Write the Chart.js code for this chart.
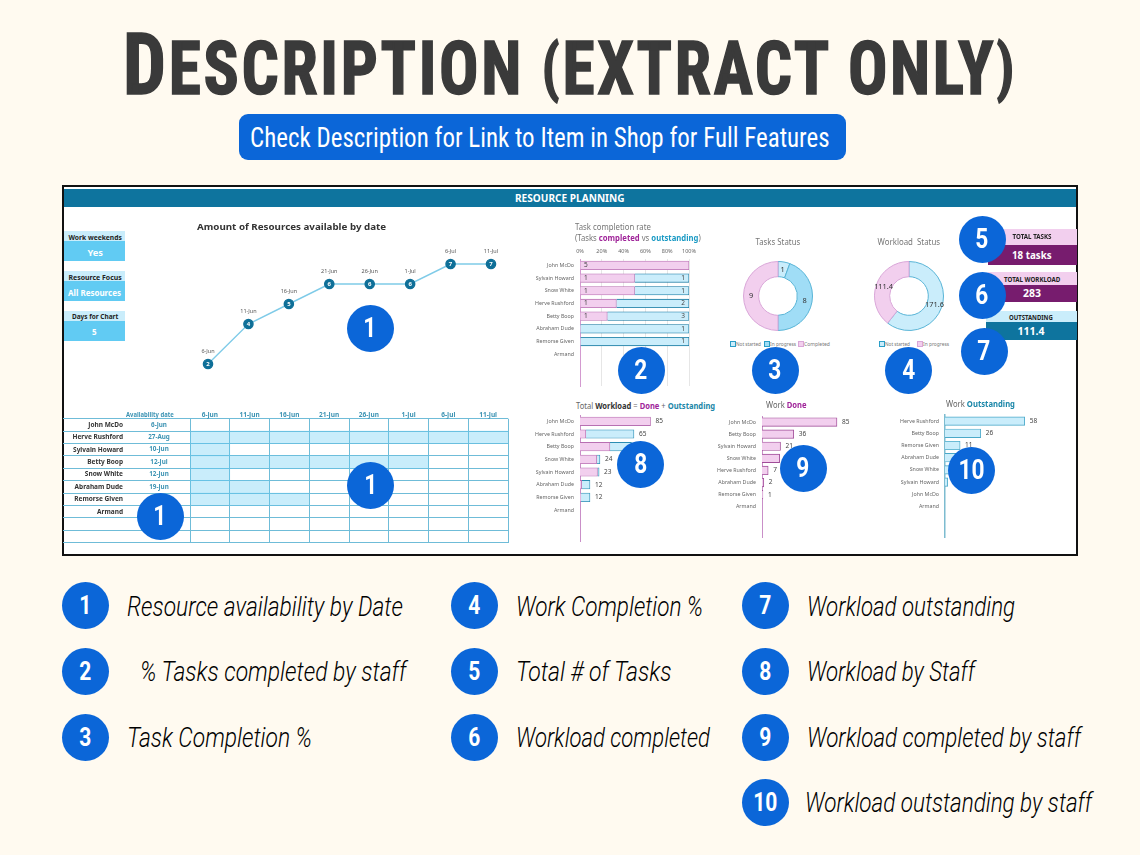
<!DOCTYPE html>
<html><head><meta charset="utf-8">
<script src="https://cdn.jsdelivr.net/npm/chart.js@4/dist/chart.umd.min.js"></script>
<style>
html,body{margin:0;padding:0;background:#fffaf0;overflow:hidden}
#stage{position:relative;width:1140px;height:855px;overflow:hidden;background:#fffaf0;font-family:"Noto Sans",sans-serif}
.abs{position:absolute}
.t{position:absolute;white-space:nowrap;line-height:1}
canvas{position:absolute}
.badge{position:absolute;width:47px;height:47px;margin:-23.5px 0 0 -23.5px;border-radius:50%;background:#0b66d8;color:#fff;
 font:bold 27px/47px "Liberation Sans Narrow","Roboto",sans-serif;text-align:center;z-index:30}
.badge span{display:inline-block;transform:scaleX(.84)}
.sw{position:absolute;width:4px;height:4px;border:1px solid #38a6cf}
</style></head><body><div id="stage"></div>
<script>
// ---------- data ----------
const lineDates=['6-Jun','11-Jun','16-Jun','21-Jun','26-Jun','1-Jul','6-Jul','11-Jul'];
const lineValues=[2,4,5,6,6,6,7,7];

const taskNames=['John McDo','Sylvain Howard','Snow White','Herve Rushford','Betty Boop','Abraham Dude','Remorse Given','Armand','',''];
const taskDone=[5,1,1,1,1,0,0,0];
const taskOutstanding=[0,1,1,2,3,1,1,0];
const percentTicks=[0,20,40,60,80,100];

const statusLabels=['Not started','In progress','Completed'];
const statusTasks=[1,8,9];
const workloadLabels=['Not started','In progress'];
const workloadStatus=[171.6,111.4];

const gridNames=['John McDo','Herve Rushford','Sylvain Howard','Betty Boop','Snow White','Abraham Dude','Remorse Given','Armand','',''];
const gridAvailability=['6-Jun','27-Aug','10-Jun','12-Jul','12-Jun','19-Jun','','','',''];
const gridFilledCols=[0,8,1,6,1,2,3,0,0,0];

const wlNames=['John McDo','Herve Rushford','Betty Boop','Snow White','Sylvain Howard','Abraham Dude','Remorse Given','Armand','',''];
const wlDone=[85,7,36,20,21,2,1,0];
const wlOutstanding=[0,58,26,4,2,10,11,0];

const doneNames=['John McDo','Betty Boop','Sylvain Howard','Snow White','Herve Rushford','Abraham Dude','Remorse Given','Armand','',''];
const doneValues=[85,36,21,20,7,2,1,0];

const outNames=['Herve Rushford','Betty Boop','Remorse Given','Abraham Dude','Snow White','Sylvain Howard','John McDo','Armand','',''];
const outValues=[58,26,11,10,4,2,0,0];

// ---------- colours ----------
const PINK='#f2cfee',PINKB='#b86fb2',BLUE='#caedfb',BLUEB='#2a8db3',TEAL='#0e749e',PURPLE='#771c6e',MID='#61cbf3';
const FONT='"Noto Sans",sans-serif';

// ---------- page helpers ----------
const stage=document.getElementById('stage');
function T(html,x,y,o={}){
  const e=document.createElement('div');e.className='t';e.innerHTML=html;
  e.style.cssText+=`left:${x}px;top:${y}px;font:${o.weight||'normal'} ${o.size||8}px ${o.family||FONT};color:${o.color||'#333'};z-index:${o.z||5};`+(o.css||'');
  if(o.style)e.style.fontStyle=o.style;
  stage.appendChild(e);
  let k=1;
  const w=e.offsetWidth;
  if(o.w)k=o.w/w;
  let tx='';
  if(o.center){tx=`translateX(${-(o.w||w)/2}px) `;}
  e.style.transformOrigin='0 50%';
  e.style.transform=`${tx}translateY(-50%) scaleX(${k})`;
  return e;
}
function R(x,y,w,h,c,z){const e=document.createElement('div');e.className='abs';
  e.style.cssText=`left:${x}px;top:${y}px;width:${w}px;height:${h}px;background:${c};z-index:${z||1}`;stage.appendChild(e);return e;}
function badge(x,y,s,size){const e=document.createElement('div');e.className='badge';e.innerHTML='<span>'+s+'</span>';
  e.style.left=x+'px';e.style.top=y+'px';if(size)e.style.fontSize=size+'px';stage.appendChild(e);}
function cv(x,y,w,h){const c=document.createElement('canvas');c.width=w;c.height=h;
  c.style.cssText=`left:${x}px;top:${y}px;width:${w}px;height:${h}px;z-index:3`;stage.appendChild(c);return c;}
const base={responsive:false,animation:false,devicePixelRatio:1,plugins:{legend:{display:false},tooltip:{enabled:false}}};

// ---------- headline ----------
const NARROW='"Liberation Sans Narrow","Roboto Condensed","Roboto",sans-serif';
const paren=c=>`<span style="font-size:63px;vertical-align:5px">${c}</span>`;
T('<span style="font-size:86px">D</span><span style="font-size:74px;text-transform:uppercase">escription '+paren('(')+'extract only'+paren(')')+'</span>',123,64,
  {weight:'bold',family:NARROW,color:'#3a3a3a',w:894,css:'letter-spacing:3px;-webkit-text-stroke:1.5px #3a3a3a;'});
const btn=R(238.5,114,607,46,'#0b66d8',2);btn.style.borderRadius='9px';
T('Check Description for Link to Item in Shop for Full Features',250,138,{family:NARROW,size:27,color:'#fff',w:580});

// ---------- dashboard frame ----------
const fr=R(62,185,1016,371,'#fff',1);fr.style.boxSizing='border-box';fr.style.border='2px solid #111';
R(64,189,1012,17.5,TEAL,2);
T('RESOURCE PLANNING',570,197.5,{weight:'bold',size:10,color:'#fff',center:true,w:110});

// left selectors
[[231,'Work weekends','Yes',20],[271,'Resource Focus','All Resources',20],[310.5,'Days for Chart','5',20]].forEach(([y,a,b,h])=>{
  R(64,y,61,10,BLUE,2);R(64,y+10,61,h,MID,2);
  T(a,94.5,y+5.5,{weight:'bold',size:7.6,color:'#222',center:true,w:a==='Days for Chart'?46:53});
  T(b,94.5,y+20.5,{weight:'bold',size:8,color:'#fff',center:true,w:b==='5'?5:(b==='Yes'?15:53)});
});

// ---------- line chart ----------
T('Amount of Resources available by date',197,225.5,{weight:'bold',size:9,color:'#333',w:189});
new Chart(cv(188,224,323,160),{type:'line',
  data:{labels:lineDates,datasets:[{data:lineValues,borderColor:'#7fcbe8',borderWidth:1.4,tension:0,
    pointRadius:4.6,pointBackgroundColor:'#0e6f98',pointBorderColor:'#0e6f98'}]},
  options:{...base,layout:{autoPadding:false,padding:{left:20,right:20}},
    scales:{x:{display:false},y:{display:false,min:1,max:9}}},
  plugins:[{id:'pl',afterDatasetsDraw(c){const g=c.ctx;g.save();g.textAlign='center';g.textBaseline='middle';
    c.getDatasetMeta(0).data.forEach((p,i)=>{
      g.font='bold 6px '+FONT;g.fillStyle='#fff';g.fillText(lineValues[i],p.x,p.y+.5);
      g.font='5.5px '+FONT;g.fillStyle='#555';g.fillText(lineDates[i],p.x,p.y-13);
    });g.restore();}}]});

// ---------- task completion rate ----------
T('Task completion rate',574.7,226,{size:8.5,color:'#777',w:76});
T('(Tasks <b style="color:#a0259a">completed</b> vs <b style="color:#1a9ac4">outstanding</b>)',574.7,237,{size:8.5,color:'#777',w:126});
const shareDone=taskDone.map((d,i)=>d+taskOutstanding[i]?d/(d+taskOutstanding[i])*100:0);
const shareOut=taskDone.map((d,i)=>d+taskOutstanding[i]?taskOutstanding[i]/(d+taskOutstanding[i])*100:0);
const fitY=s=>{s.width=50;s.paddingTop=0;s.paddingBottom=0;s.paddingLeft=0;s.paddingRight=0;};
const NAME_TICKS={autoSkip:false,font:{size:5.3,family:FONT},color:'#666',padding:6};
new Chart(cv(530,243,170,150),{type:'bar',
  data:{labels:taskNames,datasets:[
    {data:shareDone,backgroundColor:PINK,borderColor:PINKB,borderWidth:.8,barThickness:8.5},
    {data:shareOut,backgroundColor:BLUE,borderColor:TEAL,borderWidth:.8,barThickness:8.5}]},
  options:{...base,indexAxis:'y',layout:{padding:{right:11,bottom:7}},
    scales:{
      x:{position:'top',stacked:true,min:0,max:100,afterFit(s){s.height=16;s.paddingLeft=0;s.paddingRight=0;},
        afterBuildTicks(s){s.ticks=percentTicks.map(v=>({value:v}))},
        grid:{color:'#e6e6e6',drawTicks:false},border:{display:false},
        ticks:{font:{size:5.5,family:FONT},color:'#666',padding:4,maxRotation:0,callback:v=>v+'%'}},
      y:{stacked:true,afterFit:fitY,grid:{display:false,drawTicks:false},border:{color:'#d39ad0',width:1},ticks:NAME_TICKS}}},
  plugins:[{id:'tv',afterDatasetsDraw(c){const g=c.ctx,x=c.scales.x,y=c.scales.y;g.save();g.font='6.5px '+FONT;g.fillStyle='#444';g.textBaseline='middle';
    taskDone.forEach((d,i)=>{const yy=y.getPixelForValue(i);
      if(d){g.textAlign='left';g.fillText(d,x.left+4,yy);}
      if(taskOutstanding[i]){g.textAlign='right';g.fillText(taskOutstanding[i],x.right-4,yy);}
    });g.restore();}}]});

// ---------- donuts ----------
function donut(x,values,bg,border){
  new Chart(cv(x-42,296-42,84,84),{type:'doughnut',
    data:{labels:values.map(String),datasets:[{data:values,backgroundColor:bg,borderColor:border,borderWidth:1}]},
    options:{...base,cutout:'56%',layout:{padding:7}},
    plugins:[{id:'dv',afterDatasetsDraw(c){const g=c.ctx;g.save();g.font='7.4px '+FONT;g.fillStyle='#333';g.textAlign='center';g.textBaseline='middle';
      c.getDatasetMeta(0).data.forEach((a,i)=>{const p=a.tooltipPosition();g.fillText(values[i],p.x,p.y);});g.restore();}}]});
}
T('Tasks Status',777.7,241,{size:8,color:'#777',center:true,w:45});
T('Workload&nbsp; Status',909,241,{size:8,color:'#777',center:true,w:63});
donut(777.7,statusTasks,[BLUE,'#a0ddf6',PINK],['#58b4d6','#58b4d6','#d9a6d8']);
donut(909,workloadStatus,[BLUE,PINK],['#58b4d6','#d9a6d8']);
function leg(x,y,text,w,c,fill){const s=document.createElement('div');s.className='sw';
  s.style.cssText+=`left:${x}px;top:${y-3}px;border-color:${c};background:${fill};z-index:4`;stage.appendChild(s);
  T(text,x+6,y,{size:5.8,color:'#777',w});}
leg(730,344,statusLabels[0],25,'#2a9ec8',BLUE);leg(763.7,344,statusLabels[1],26,'#2a9ec8','#a0ddf6');leg(797.7,344,statusLabels[2],26,'#d9a6d8',PINK);
leg(879,344,workloadLabels[0],25,'#2a9ec8',BLUE);leg(916.7,344,workloadLabels[1],26,'#d9a6d8',PINK);

// ---------- KPI boxes ----------
R(988,229,89,16,PINK,2);R(988,245,89,20,PURPLE,2);
T('TOTAL TASKS',1032,235.5,{weight:'bold',size:6.5,color:'#222',center:true,w:39});
T('18 tasks',1032,255,{weight:'bold',size:10,color:'#fff',center:true,w:40});
R(988,272,89,12.5,PINK,2);R(988,284.5,89,17.5,PURPLE,2);
T('TOTAL WORKLOAD',1032,278.5,{weight:'bold',size:6.5,color:'#222',center:true,w:56});
T('283',1032,292.5,{weight:'bold',size:10.5,color:'#fff',center:true,w:18});
R(986,310.5,91,11,BLUE,2);R(986,321.5,91,18.5,TEAL,2);
T('OUTSTANDING',1031,317,{weight:'bold',size:6.5,color:'#222',center:true,w:44});
T('111.4',1031,331,{weight:'bold',size:10.5,color:'#fff',center:true,w:27});

// ---------- availability grid ----------
T('Availability date',150,414,{weight:'bold',size:6.5,color:'#3c93b3',center:true,w:48,z:6});
new Chart(cv(63,405,446,139),{type:'bar',
  data:{labels:gridNames,datasets:[{data:gridFilledCols.map(e=>e?[0,e]:null),backgroundColor:'rgba(97,203,243,.34)',borderWidth:0,
    barPercentage:1,categoryPercentage:1}]},
  options:{...base,indexAxis:'y',layout:{padding:{right:1,bottom:1.3}},
    scales:{
      x:{min:0,max:8,position:'bottom',afterFit(s){s.height=0},grid:{color:'#6fbcd8',lineWidth:1,drawTicks:false},border:{display:false},
        ticks:{display:false,stepSize:1}},
      x2:{type:'category',axis:'x',labels:lineDates,position:'top',offset:true,afterFit(s){s.height=13.7},
        grid:{display:false,drawTicks:false},border:{display:false},
        ticks:{font:{size:6.5,weight:'bold',family:FONT},color:'#3c93b3',padding:0,maxRotation:0,autoSkip:false}},
      y:{afterFit(s){s.width=127},grid:{color:'#6fbcd8',lineWidth:1,tickLength:127,tickColor:'#6fbcd8'},border:{display:false},
        ticks:{autoSkip:false,padding:-60,font:{size:6.5,weight:'bold',family:FONT},color:'#333'}}}},
  plugins:[{id:'av',afterDatasetsDraw(c){const g=c.ctx,y=c.scales.y;g.save();g.font='bold 6.3px '+FONT;g.fillStyle='#3c93b3';g.textAlign='center';g.textBaseline='middle';
    gridAvailability.forEach((t,i)=>{if(t)g.fillText(t,96,y.getPixelForValue(i));});g.restore();}}]});

// ---------- horizontal workload charts ----------
function endLabels(id,totals){return {id,afterDatasetsDraw(c){const g=c.ctx,x=c.scales.x,y=c.scales.y;g.save();g.font='6.5px '+FONT;g.fillStyle='#444';g.textAlign='left';g.textBaseline='middle';
  totals.forEach((v,i)=>{if(v)g.fillText(v,x.getPixelForValue(v)+5,y.getPixelForValue(i));});g.restore();}};}
function hScales(axisColor,max,stacked,axisW){return {
  x:{display:false,min:0,max,stacked},
  y:{stacked,afterFit:fitY,grid:{display:false,drawTicks:false},border:{color:axisColor,width:axisW||1},ticks:NAME_TICKS}};}

T('Total <b style="color:#333">Workload</b> = <b style="color:#a0259a">Done</b> + <b style="color:#1a86a8">Outstanding</b>',576,404.5,{size:8,color:'#666',w:139});
new Chart(cv(530,412,190,133),{type:'bar',
  data:{labels:wlNames,datasets:[
    {data:wlDone,backgroundColor:PINK,borderColor:PINKB,borderWidth:.8,barThickness:8.5},
    {data:wlOutstanding,backgroundColor:BLUE,borderColor:BLUEB,borderWidth:.8,barThickness:8.5}]},
  options:{...base,indexAxis:'y',layout:{padding:{top:3,bottom:3.3,right:57}},scales:hScales('#c98fc8',100,true)},
  plugins:[endLabels('e8',wlDone.map((d,i)=>d+wlOutstanding[i]))]});

T('Work <b style="color:#a0259a">Done</b>',766,403.5,{size:8,color:'#666',w:41});
new Chart(cv(712,413,190,127),{type:'bar',
  data:{labels:doneNames,datasets:[{data:doneValues,backgroundColor:PINK,borderColor:'#a04c98',borderWidth:.9,barThickness:8.5}]},
  options:{...base,indexAxis:'y',layout:{padding:{top:3,bottom:3,right:51.8}},scales:hScales('#c98fc8',100,false)},
  plugins:[endLabels('e9',doneValues)]});

T('Work <b style="color:#1a86a8">Outstanding</b>',946,402.5,{size:8,color:'#666',w:69});
new Chart(cv(895,412,180,128),{type:'bar',
  data:{labels:outNames,datasets:[{data:outValues,backgroundColor:BLUE,borderColor:'#4aa9c9',borderWidth:.9,barThickness:8.5}]},
  options:{...base,indexAxis:'y',layout:{padding:{top:3,bottom:3,right:33.8}},scales:hScales('#7dbcd0',70,false,1.5)},
  plugins:[endLabels('e10',outValues)]});

// ---------- badges on the dashboard ----------
[[370,328,'1'],[641,370.5,'2'],[775,370.7,'3'],[908.7,370.7,'4'],[982,239,'5'],[982,295.7,'6'],[984,351.7,'7'],
 [640.7,464.3,'8'],[803,468.7,'9'],[971,470,'10'],[370.3,485.7,'1'],[160,516,'1']].forEach(b=>badge(b[0],b[1],b[2]));

// ---------- key ----------
[[85.5,605,'1',127,'Resource availability by Date',276,607],
 [85.5,671,'2',140,'% Tasks completed by staff',266,672],
 [85.5,737,'3',127,'Task Completion %',185,738],
 [474,605,'4',516,'Work Completion %',187,607],
 [474,671,'5',516,'Total # of Tasks',156,672],
 [474,737,'6',516,'Workload completed',194,738],
 [765,605,'7',807,'Workload outstanding',208,607],
 [765,671,'8',807,'Workload by Staff',168,672],
 [765,737,'9',807,'Workload completed by staff',274,738],
 [765,802,'10',805,'Workload outstanding by staff',287,803]].forEach(([bx,by,n,tx,text,w,ty])=>{
  badge(bx,by,n,25);
  T(text,tx,ty,{size:27,family:'Roboto,sans-serif',weight:'300',style:'italic',color:'#000',w});
});
</script></body></html>
